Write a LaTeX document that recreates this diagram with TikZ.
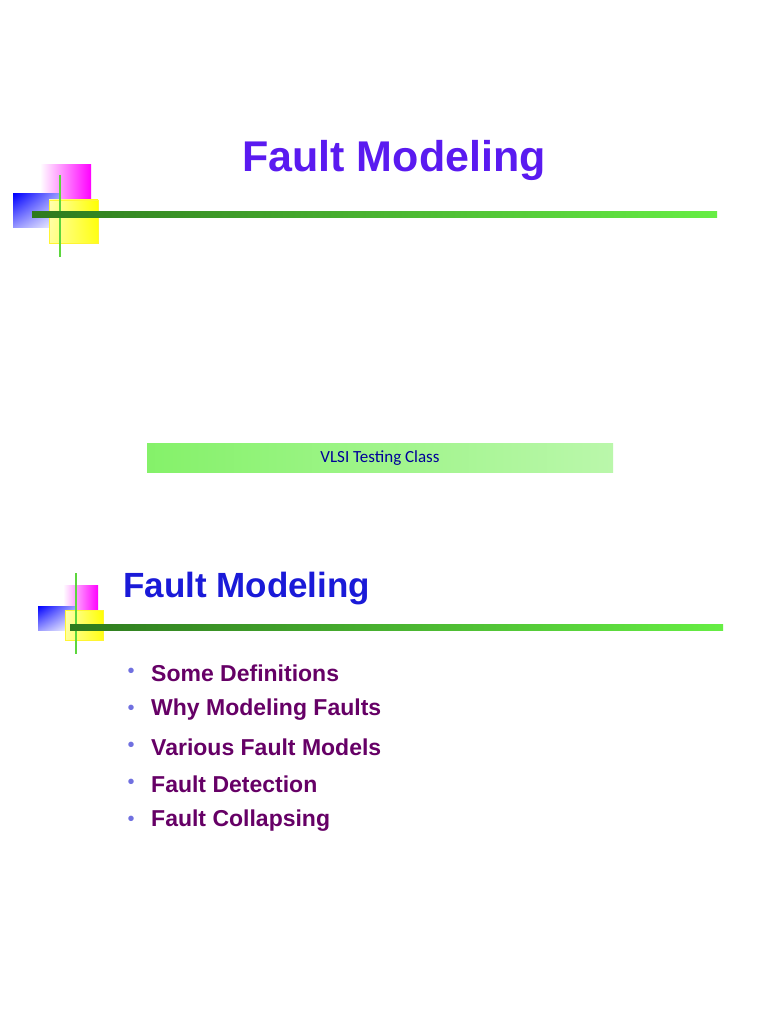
\documentclass[tikz,border=0pt]{standalone}
\usepackage{fontspec}
\usetikzlibrary{shadings}
\setmainfont{Liberation Sans}
\newfontfamily\carl{Carlito}
\definecolor{ttl}{HTML}{5A1AF0}
\definecolor{ttlb}{HTML}{1A1AD8}
\definecolor{bul}{HTML}{660066}
\definecolor{dot}{HTML}{7070E0}
\definecolor{dg}{HTML}{2E7A1E}
\definecolor{lg}{HTML}{66EE44}
\tikzset{bitem/.style={anchor=west,text=bul,font=\fontsize{23}{23}\selectfont\bfseries,inner sep=0},
bdot/.style={anchor=center,text=dot,font=\fontsize{20}{20}\selectfont,inner sep=0}}
\begin{document}
\begin{tikzpicture}[x=1pt,y=-1pt]
\useasboundingbox (0,0) rectangle (768,1024);
\fill[white] (0,0) rectangle (768,1024);
% logo 1
\shade[left color=white,right color=magenta] (40,165) rectangle (91,200);
\shade[upper left=blue,lower right=white,upper right=white!60!blue,lower left=white!60!blue] (13,194) rectangle (60,228);
\shade[upper left=white!70!yellow,lower right=yellow!90!white,upper right=yellow,lower left=white!60!yellow] (49,200) rectangle (98,243);
\draw[yellow!80!white,line width=0.5] (49,200) rectangle (98,243);
\draw[lg!90!black,line width=2] (60,175) -- (60,257);
\shade[left color=dg,right color=lg] (32,212) rectangle (717,218);
\node[text=ttl,font=\fontsize{43}{43}\selectfont\bfseries] (t1) at (394,160) {Fault Modeling};
% VLSI box
\shade[left color=lg!80!white,right color=lg!45!white] (147,443) rectangle (613,472);
\node[text=blue!60!black,font=\carl\fontsize{17}{17}\selectfont] (v) at (380,458) {VLSI Testing Class};
% logo 2
\shade[left color=white,right color=magenta] (63,585) rectangle (98,613);
\shade[upper left=blue,lower right=white,upper right=white!60!blue,lower left=white!60!blue] (38,606) rectangle (75,630);
\shade[upper left=white!70!yellow,lower right=yellow!90!white,upper right=yellow,lower left=white!60!yellow] (65,610) rectangle (103,640);
\draw[yellow!80!white,line width=0.5] (65,610) rectangle (103,640);
\draw[lg!90!black,line width=2] (76,573) -- (76,654);
\shade[left color=dg,right color=lg] (70,624) rectangle (723,630);
\node[text=ttlb,font=\fontsize{35}{35}\selectfont\bfseries,anchor=west,inner sep=0] (t2) at (123,589) {Fault Modeling};
\foreach \i/\t in {0/Some Definitions,1/Why Modeling Faults,2/Various Fault Models,3/Fault Detection,4/Fault Collapsing}{
 \node[bitem] (b\i) at (151,673+37*\i) {\t};
 \node[bdot] (d\i) at (131,673+37*\i) {•};
}
\end{tikzpicture}
\end{document}
